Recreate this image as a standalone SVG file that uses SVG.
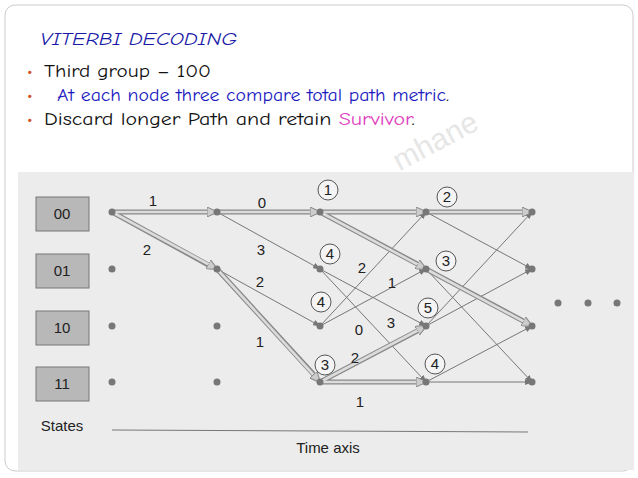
<svg xmlns="http://www.w3.org/2000/svg" width="638" height="478" viewBox="0 0 638 478">
<style>
.hw{font-family:"Comic Neue","DejaVu Sans","Liberation Sans",sans-serif}
.lb{font-family:"Liberation Sans",Arial,sans-serif;font-size:15px;fill:#222;text-anchor:middle}
.thin{stroke:#777;stroke-width:1;fill:none;marker-end:url(#ah)}
.boldo{stroke:#888;stroke-width:5;fill:none}
.boldi{stroke:#dcdcdc;stroke-width:2.6;fill:none;marker-end:url(#bh)}
.dot{fill:#777}
.m circle{fill:#f4f4f4;stroke:#555;stroke-width:1}
.box{fill:#b8b8b8;stroke:#777}
</style>
<defs>
<marker id="ah" markerWidth="8" markerHeight="6" refX="7" refY="3" orient="auto" markerUnits="userSpaceOnUse"><path d="M0,0 L8,3 L0,6 z" fill="#777"/></marker>
<marker id="bh" markerWidth="12" markerHeight="10" refX="10" refY="5" orient="auto" markerUnits="userSpaceOnUse"><path d="M0,0 L11,5 L0,10 z" fill="#ccc" stroke="#888"/></marker>
</defs>
<rect x="0" y="0" width="638" height="478" fill="#fff"/>
<rect x="5" y="5" width="628" height="466" rx="10" fill="none" stroke="#ccc"/>
<text x="40" y="45" class="hw" font-size="17" font-style="italic" fill="#1a1aa8" textLength="197" lengthAdjust="spacingAndGlyphs">VITERBI DECODING</text>
<g class="hw" font-size="18">
<text x="27" y="77" fill="#d05020">•</text><text x="44" y="77" fill="#111" textLength="167" lengthAdjust="spacingAndGlyphs">Third group – 100</text>
<text x="27" y="101" fill="#d05020">•</text><text x="57" y="101" fill="#1a1ac0" textLength="392" lengthAdjust="spacingAndGlyphs">At each node three compare total path metric<tspan fill="#111">.</tspan></text>
<text x="27" y="125" fill="#d05020">•</text><text x="44" y="125" fill="#111" textLength="371" lengthAdjust="spacingAndGlyphs">Discard longer Path and retain <tspan fill="#e040c0">Survivor</tspan>.</text>
</g>
<text x="440" y="150" font-family="Liberation Sans,sans-serif" font-size="30" fill="#e6e6e6" transform="rotate(-28 440 150)" text-anchor="middle">mhane</text>
<rect x="18" y="172" width="616" height="298" fill="#ececec"/>
<g id="boxes">
<g id="s00"><rect class="box" x="36" y="197" width="53" height="34"/><text class="lb" x="62" y="219">00</text></g>
<g id="s01"><rect class="box" x="36" y="254" width="53" height="34"/><text class="lb" x="62" y="276">01</text></g>
<g id="s10"><rect class="box" x="36" y="311" width="53" height="34"/><text class="lb" x="62" y="333">10</text></g>
<g id="s11"><rect class="box" x="36" y="367" width="53" height="34"/><text class="lb" x="62" y="389">11</text></g>
</g>
<g id="connectors">
<g class="thin">
<line x1="217" y1="212" x2="320" y2="269"/>
<line x1="217" y1="269" x2="320" y2="326"/>
<line x1="320" y1="269" x2="426" y2="326"/>
<line x1="320" y1="269" x2="426" y2="382"/>
<line x1="320" y1="326" x2="426" y2="212"/>
<line x1="320" y1="326" x2="426" y2="269"/>
<line x1="426" y1="212" x2="532" y2="269"/>
<line x1="426" y1="269" x2="532" y2="382"/>
<line x1="426" y1="326" x2="532" y2="212"/>
<line x1="426" y1="326" x2="532" y2="269"/>
<line x1="426" y1="382" x2="532" y2="326"/>
<line x1="426" y1="382" x2="532" y2="382"/>
</g>
<g>
<path class="boldo" d="M112,212 L212,212 M112,212 L212,267 M217,212 L315,212 M217,269 L317,378 M320,212 L421,212 M320,212 L421,266 M320,382 L421,329 M320,382 L421,382 M426,212 L527,212 M426,269 L527,323"/>
<line class="boldi" x1="112" y1="212" x2="217" y2="212"/>
<line class="boldi" x1="112" y1="212" x2="217" y2="269"/>
<line class="boldi" x1="217" y1="212" x2="320" y2="212"/>
<line class="boldi" x1="217" y1="269" x2="320" y2="382"/>
<line class="boldi" x1="320" y1="212" x2="426" y2="212"/>
<line class="boldi" x1="320" y1="212" x2="426" y2="269"/>
<line class="boldi" x1="320" y1="382" x2="426" y2="326"/>
<line class="boldi" x1="320" y1="382" x2="426" y2="382"/>
<line class="boldi" x1="426" y1="212" x2="532" y2="212"/>
<line class="boldi" x1="426" y1="269" x2="532" y2="326"/>
</g>
<line x1="112" y1="430" x2="528" y2="432" stroke="#777" stroke-width="1"/>
</g>
<g id="dots">
<circle class="dot" cx="112" cy="212" r="3.5"/><circle class="dot" cx="112" cy="269" r="3.5"/><circle class="dot" cx="112" cy="326" r="3.5"/><circle class="dot" cx="112" cy="382" r="3.5"/>
<circle class="dot" cx="217" cy="212" r="3.5"/><circle class="dot" cx="217" cy="269" r="3.5"/><circle class="dot" cx="217" cy="326" r="3.5"/><circle class="dot" cx="217" cy="382" r="3.5"/>
<circle class="dot" cx="320" cy="212" r="3.5"/><circle class="dot" cx="320" cy="269" r="3.5"/><circle class="dot" cx="320" cy="326" r="3.5"/><circle class="dot" cx="320" cy="382" r="3.5"/>
<circle class="dot" cx="426" cy="212" r="3.5"/><circle class="dot" cx="426" cy="269" r="3.5"/><circle class="dot" cx="426" cy="326" r="3.5"/><circle class="dot" cx="426" cy="382" r="3.5"/>
<circle class="dot" cx="532" cy="212" r="3.5"/><circle class="dot" cx="532" cy="269" r="3.5"/><circle class="dot" cx="532" cy="326" r="3.5"/><circle class="dot" cx="532" cy="382" r="3.5"/>
<circle class="dot" cx="558" cy="303" r="3.5"/><circle class="dot" cx="588" cy="303" r="3.5"/><circle class="dot" cx="617" cy="303" r="3.5"/>
</g>
<g id="metrics" class="m">
<g><circle cx="328" cy="190" r="10"/><text class="lb" x="328" y="195">1</text></g>
<g><circle cx="330" cy="254" r="10"/><text class="lb" x="330" y="259">4</text></g>
<g><circle cx="321" cy="302" r="10"/><text class="lb" x="321" y="307">4</text></g>
<g><circle cx="325" cy="365" r="10"/><text class="lb" x="325" y="370">3</text></g>
<g><circle cx="447" cy="197" r="10"/><text class="lb" x="447" y="202">2</text></g>
<g><circle cx="446" cy="261" r="10"/><text class="lb" x="446" y="266">3</text></g>
<g><circle cx="428" cy="308" r="10"/><text class="lb" x="428" y="313">5</text></g>
<g><circle cx="435" cy="364" r="10"/><text class="lb" x="435" y="369">4</text></g>
</g>
<g id="labels">
<text class="lb" x="153" y="206">1</text>
<text class="lb" x="262" y="208">0</text>
<text class="lb" x="147" y="255">2</text>
<text class="lb" x="261" y="255">3</text>
<text class="lb" x="260" y="287">2</text>
<text class="lb" x="260" y="347">1</text>
<text class="lb" x="362" y="273">2</text>
<text class="lb" x="392" y="288">1</text>
<text class="lb" x="359" y="335">0</text>
<text class="lb" x="391" y="328">3</text>
<text class="lb" x="355" y="363">2</text>
<text class="lb" x="360" y="407">1</text>
<text class="lb" x="62" y="431">States</text>
<text class="lb" x="328" y="453">Time axis</text>
</g>
</svg>
